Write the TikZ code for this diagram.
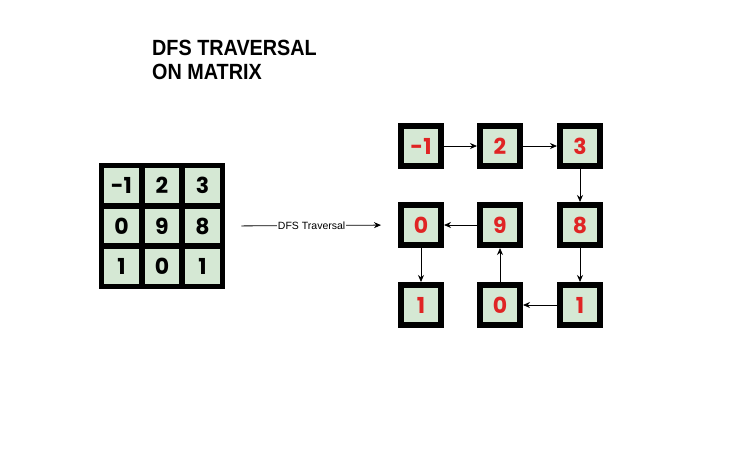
\documentclass[tikz,border=0pt]{standalone}
\usepackage{fontspec}
\setmainfont{Liberation Sans}
\newfontfamily\digitfont{Poppins}
\usetikzlibrary{arrows.meta}
\definecolor{cellgreen}{HTML}{D5E8D4}
\definecolor{digitred}{HTML}{E02424}

\begin{document}
\begin{tikzpicture}[x=1pt,y=-1pt,>={Stealth[length=7pt,width=6pt]}]
            \tikzstyle{cell}=[rectangle,draw=black,line width=5.5pt,fill=cellgreen,minimum size=40pt,inner sep=0pt,font=\digitfont\bfseries\fontsize{22}{22}\selectfont]
            \tikzstyle{box}=[cell,line width=6pt,minimum size=40pt,text=digitred]
            \tikzstyle{link}=[->,line width=0.8pt]
            \useasboundingbox (0,0) rectangle (733,451);

            \foreach \name/\y/\txt in {1/55/DFS TRAVERSAL, 2/79/ON MATRIX}
              \node[anchor=base west,inner sep=0pt,font=\bfseries\fontsize{22}{24}\selectfont] (title-\name) at (152,\y) {\scalebox{0.9}[1]{\txt}};

            \foreach \r/\c/\value in {1/1/-1, 1/2/2, 1/3/3, 2/1/0, 2/2/9, 2/3/8, 3/1/1, 3/2/0, 3/3/1}
              \node[cell] (m-\r-\c) at (81+40.5*\c, 145+40.5*\r) {\value};

            \foreach \name/\x/\y/\value in {1/421/146/-1, 2/500/146/2, 3/580/146/3, 4/580/225/8, 5/580/305/1, 6/500/305/0, 7/500/225/9, 8/421/225/0, 9/421/305/1}
              \node[box] (v-\name) at (\x,\y) {\value};

            \foreach \from/\to in {1/2, 2/3, 3/4, 4/5, 5/6, 6/7, 7/8, 8/9}
              \draw[link] (v-\from) -- (v-\to);

            \draw[link,shorten <=16pt,shorten >=17pt] (m-2-3.east) -- node[fill=white,inner sep=1pt,font=\fontsize{10.5}{12}\selectfont] (dfs-label) {DFS Traversal} (v-8.west);
        \end{tikzpicture}
\end{document}
